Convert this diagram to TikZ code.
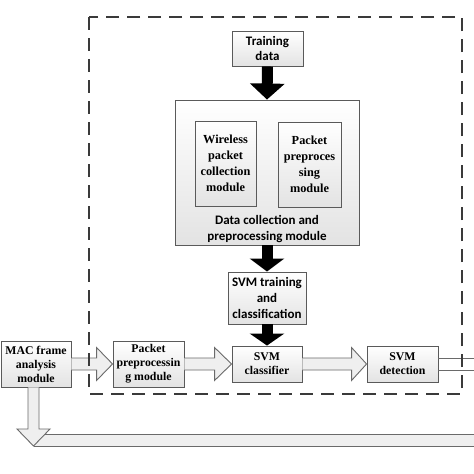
\documentclass[tikz,border=0pt]{standalone}
\usepackage{fontspec}
\setmainfont{Liberation Serif}
\newfontfamily\calfont{Carlito}
\usetikzlibrary{arrows.meta,shadows,calc}
\definecolor{boxline}{HTML}{5A5A5A}
\definecolor{arrowline}{HTML}{6A6A6A}
\definecolor{arrowfill}{HTML}{EFEFEF}
\definecolor{dashcol}{HTML}{3A3A3A}
\tikzset{
  box/.style={draw=boxline, line width=0.9pt, top color=white, bottom color=gray!22,
    drop shadow={shadow xshift=1.2pt, shadow yshift=-1.2pt, fill=black, opacity=0.3},
    align=center, inner sep=0pt, text=black},
  tfont/.style={font=\fontsize{11.8}{14}\selectfont\bfseries},
  tfontb/.style={font=\fontsize{12.3}{16}\selectfont\bfseries},
  cfont/.style={font=\calfont\fontsize{13}{15.7}\selectfont\bfseries},
  blackarrow/.style={line width=11pt, black},
  hollow/.style={draw=arrowline, fill=arrowfill, line width=0.9pt},
  hline/.style={draw=arrowline, line width=0.9pt},
}
\begin{document}
\begin{tikzpicture}[x=1pt,y=-1pt]
\path[use as bounding box, fill=white] (0,0) rectangle (474,474);

% nodes
\node[box, cfont, minimum width=71, minimum height=35] (train) at (267.5,48.5) {Training\\data};
\node[box, minimum width=184, minimum height=145] (dc) at (267,172.5) {};
\node[box, tfontb, minimum width=61, minimum height=85] (wpc) at (225.5,163.5) {Wireless\\packet\\collection\\module};
\node[box, tfontb, minimum width=63, minimum height=85] (ppm) at (309.5,164.5) {Packet\\preproces\\sing\\module};
\node[cfont, align=center, inner sep=0pt] (dctext) at (267,229) {Data collection and\\preprocessing module};
\node[box, cfont, minimum width=78, minimum height=52] (svmt) at (267,298) {SVM training\\and\\classification};
\node[box, tfont, minimum width=70, minimum height=36] (svmc) at (267,364) {SVM\\classifier};
\node[box, tfont, minimum width=70, minimum height=46] (mac) at (36,364) {MAC frame\\analysis\\module};
\node[box, tfont, minimum width=71, minimum height=46] (pp) at (148.5,364) {Packet\\preprocessin\\g module};
\node[box, tfont, minimum width=71, minimum height=36] (det) at (402.5,364) {SVM\\detection};

% black arrows
\draw[blackarrow, -{Triangle[width=34pt,length=16pt]}] (train.south) -- (dc.north);
\draw[blackarrow, -{Triangle[width=34pt,length=13pt]}] (dc.south) -- (svmt.north);
\draw[blackarrow, -{Triangle[width=34pt,length=12pt]}] (svmt.south) -- (svmc.north);

% hollow arrows
\draw[hollow] let \p1=(mac.east), \p2=(pp.west) in
  (\x1,\y2+6pt) -- (\x2-16pt,\y2+6pt) -- (\x2-16pt,\y2+16.5pt) -- (\x2,\y2)
  -- (\x2-16pt,\y2-16.5pt) -- (\x2-16pt,\y2-6pt) -- (\x1,\y2-6pt);
\draw[hollow] let \p1=(pp.east), \p2=(svmc.west) in
  (\x1,\y2+6pt) -- (\x2-17pt,\y2+6pt) -- (\x2-17pt,\y2+16.5pt) -- (\x2,\y2)
  -- (\x2-17pt,\y2-16.5pt) -- (\x2-17pt,\y2-6pt) -- (\x1,\y2-6pt);
\draw[hollow] let \p1=(svmc.east), \p2=(det.west) in
  (\x1,\y2+6pt) -- (\x2-15pt,\y2+6pt) -- (\x2-15pt,\y2+16.5pt) -- (\x2,\y2)
  -- (\x2-15pt,\y2-16.5pt) -- (\x2-15pt,\y2-6pt) -- (\x1,\y2-6pt);
\coordinate (rightend) at (478,364);
\draw[hollow] let \p1=(det.east), \p2=(rightend) in
  (\x1,\y2+6pt) -- (\x2,\y2+6pt) (\x2,\y2-6pt) -- (\x1,\y2-6pt);

% bottom return arrow
\coordinate (vstart) at ($(mac.south)+(-2.5,0)$);
\coordinate (vtip) at (33.5,446);
\coordinate (bend) at (478,446);
\fill[arrowfill] let \p1=(vtip), \p2=(bend) in (\x1,\y1) rectangle (\x2,\y1+12pt);
\draw[hline] let \p1=(vtip), \p2=(bend) in (\x1,\y1+12pt) -- (\x2,\y1+12pt) (\x1,\y1) -- (\x2,\y1);
\draw[hollow] let \p1=(vstart), \p2=(vtip) in
  (\x1-5.5pt,\y1) -- (\x1-5.5pt,\y2+17pt) -- (\x1-16.5pt,\y2+17pt) -- (\x2,\y2)
  -- (\x1+16.5pt,\y2+17pt) -- (\x1+5.5pt,\y2+17pt) -- (\x1+5.5pt,\y1);

% dashed frame
\draw[dashcol, line width=1.6pt, dash pattern=on 13pt off 8pt] (89,17) rectangle (462,394);
\end{tikzpicture}
\end{document}
